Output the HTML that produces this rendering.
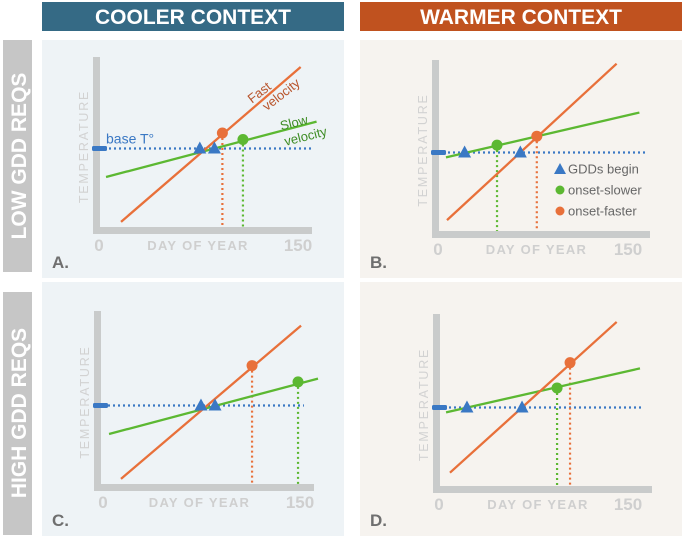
<!DOCTYPE html>
<html><head><meta charset="utf-8"><style>
html,body{margin:0;padding:0;background:#fff;}
svg{display:block;font-family:"Liberation Sans",sans-serif;}
</style></head><body>
<svg id="fig" width="685" height="538" viewBox="0 0 685 538" xmlns="http://www.w3.org/2000/svg">
  <rect x="42" y="2" width="302" height="29" fill="#356a85"/>
  <text x="193" y="24" text-anchor="middle" fill="#fff" font-size="21" font-weight="bold">COOLER CONTEXT</text>
  <rect x="360" y="2" width="322" height="29" fill="#c0521f"/>
  <text x="521" y="24" text-anchor="middle" fill="#fff" font-size="21" font-weight="bold">WARMER CONTEXT</text>
  <rect x="3" y="40" width="29" height="232" fill="#c6c6c6"/>
  <text transform="translate(26,156) rotate(-90)" text-anchor="middle" fill="#fff" font-size="21" font-weight="bold">LOW GDD REQS</text>
  <rect x="3" y="292" width="29" height="243" fill="#c6c6c6"/>
  <text transform="translate(26,413) rotate(-90)" text-anchor="middle" fill="#fff" font-size="21" font-weight="bold">HIGH GDD REQS</text>
  <g id="panels"></g>
</svg>
<script>
// Data (day of year, temperature units; base T = 10)
const panelNames = ["A.", "B.", "C.", "D."];
const baseT = [10, 10, 10, 10];
const fastLineDays = [[16.6, 152], [7.1, 141], [13.7, 150.8], [8.7, 141]];
const fastLineTemps = [[1.0, 20.0], [1.7, 20.9], [1.0, 19.8], [2.0, 20.5]];
const slowLineDays = [[5.3, 164], [6.3, 159], [4.6, 163.7], [5.6, 159.5]];
const slowLineTemps = [[6.5, 13.3], [9.4, 14.9], [6.5, 13.3], [9.4, 14.8]];
const gddBeginDays = [[76, 87], [21, 65], [74.6, 85.3], [22.2, 65.9]];
const onsetFasterDay = [93, 78, 113.5, 104];
const onsetFasterTemp = [11.9, 12.0, 14.9, 15.5];
const onsetSlowerDay = [108.5, 46.6, 148.5, 93.7];
const onsetSlowerTemp = [11.1, 10.9, 12.9, 12.4];
const tickLabels = ["0", "150"];
const legendLabels = ["GDDs begin", "onset-slower", "onset-faster"];

const NS = "http://www.w3.org/2000/svg";
const layout = [
  {px:42, py:40, pw:302, ph:238, bg:"#eef3f6", ax:96, x0:99, x150:298, yb:230, ytop:57, xr:312, baseEnd:160},
  {px:360, py:40, pw:322, ph:238, bg:"#f6f3ef", ax:435, x0:438, x150:628, yb:234, ytop:60, xr:650, baseEnd:164},
  {px:42, py:282, pw:302, ph:254, bg:"#eef3f6", ax:97, x0:103, x150:300, yb:487, ytop:311, xr:314, baseEnd:153},
  {px:360, py:282, pw:322, ph:254, bg:"#f6f3ef", ax:436, x0:439, x150:628, yb:489, ytop:314, xr:652, baseEnd:161}
];
const PXDEG = 8.15;
const root = document.getElementById("panels");
function mk(tag, attrs, parent, txt){
  const e = document.createElementNS(NS, tag);
  for (const k in attrs) e.setAttribute(k, attrs[k]);
  if (txt !== undefined) e.textContent = txt;
  (parent||root).appendChild(e);
  return e;
}
const ORANGE="#e8703a", GREEN="#5cb832", BLUE="#3a78c4", AXIS="#c9cbcb";

layout.forEach((L, i) => {
  const g = mk("g", {});
  
  
  const sx = d => L.x0 + (L.x150 - L.x0) * d / 150;
  const sy = t => L.yb - t * PXDEG;
  const bg = mk("rect", {x:L.px, y:L.py, width:L.pw, height:L.ph, fill:L.bg}, g);
  
  
  const ya = mk("rect", {x:L.ax-3, y:L.ytop, width:7, height:L.yb-L.ytop+3, fill:AXIS}, g);
  
  
  const xa = mk("rect", {x:L.ax-3, y:L.yb-3, width:L.xr-L.ax+3, height:7, fill:AXIS}, g);
  
  
  const t0 = mk("text", {x:sx(0), y:L.yb+21, "text-anchor":"middle", fill:"#cfcfcf", "font-size":17, "font-weight":"bold"}, g, tickLabels[0]);
  
  
  const t1 = mk("text", {x:sx(150), y:L.yb+21, "text-anchor":"middle", fill:"#cfcfcf", "font-size":17, "font-weight":"bold"}, g, tickLabels[1]);
  
  
  const xt = mk("text", {x:(L.ax+L.xr)/2-6, y:L.yb+20, "text-anchor":"middle", fill:"#cfcfcf", "font-size":13, "font-weight":"bold", "letter-spacing":"1.3"}, g, "DAY OF YEAR");
  
  
  const ycy = (L.ytop + L.yb)/2 + 3;
  const yt = mk("text", {transform:`translate(${L.ax-8},${ycy}) rotate(-90)`, "text-anchor":"middle", fill:"#d2d2d2", "font-size":12.5, "letter-spacing":"1.8"}, g, "TEMPERATURE");
  
  
  const pl = mk("text", {x:L.px+10, y:L.py+L.ph-10, fill:"#6f6f6f", "font-size":17, "font-weight":"bold"}, g, panelNames[i]);
  
  
  const by = sy(baseT[i]);
  const bl = mk("line", {x1:sx(0), y1:by, x2:sx(L.baseEnd), y2:by, stroke:BLUE, "stroke-width":2.2, "stroke-dasharray":"2 3"}, g);
  
  
  const bm = mk("rect", {x:L.ax-4, y:by-2.5, width:15, height:5, rx:1.5, fill:BLUE}, g);
  
  
  const df = mk("line", {x1:sx(onsetFasterDay[i]), y1:sy(onsetFasterTemp[i]), x2:sx(onsetFasterDay[i]), y2:L.yb-3, stroke:ORANGE, "stroke-width":2.2, "stroke-dasharray":"2 3"}, g);
  
  
  const ds = mk("line", {x1:sx(onsetSlowerDay[i]), y1:sy(onsetSlowerTemp[i]), x2:sx(onsetSlowerDay[i]), y2:L.yb-3, stroke:GREEN, "stroke-width":2.2, "stroke-dasharray":"2 3"}, g);
  
  
  const gl = mk("line", {x1:sx(slowLineDays[i][0]), y1:sy(slowLineTemps[i][0]), x2:sx(slowLineDays[i][1]), y2:sy(slowLineTemps[i][1]), stroke:GREEN, "stroke-width":2.3}, g);
  
  
  const ol = mk("line", {x1:sx(fastLineDays[i][0]), y1:sy(fastLineTemps[i][0]), x2:sx(fastLineDays[i][1]), y2:sy(fastLineTemps[i][1]), stroke:ORANGE, "stroke-width":2.3}, g);
  
  
  gddBeginDays[i].forEach(d => {
    const x = sx(d);
    const tr = mk("polygon", {points:`${x-6.5},${by+5} ${x+6.5},${by+5} ${x},${by-7}`, fill:BLUE}, g);
    
    
  });
  const od = mk("circle", {cx:sx(onsetFasterDay[i]), cy:sy(onsetFasterTemp[i]), r:5.5, fill:ORANGE}, g);
  
  
  const gd = mk("circle", {cx:sx(onsetSlowerDay[i]), cy:sy(onsetSlowerTemp[i]), r:5.5, fill:GREEN}, g);
  
  

  if (i === 0) {
    const b = mk("text", {x:106, y:by-5, fill:BLUE, "font-size":14}, g, "base T°");
    
    
    const f = mk("text", {transform:"translate(262,96) rotate(-38)", fill:"#b8532a", "font-size":13, "text-anchor":"middle"}, g);
    
    
    mk("tspan", {x:0, y:0}, f, "Fast");
    mk("tspan", {x:16, y:15}, f, "velocity");
    const s = mk("text", {transform:"translate(295,127) rotate(-14)", fill:"#3d8c24", "font-size":13, "text-anchor":"middle"}, g);
    
    
    mk("tspan", {x:0, y:0}, s, "Slow");
    mk("tspan", {x:8, y:16}, s, "velocity");
  }
  if (i === 1) {
    const lx = 560, ly = [169, 190, 211];
    const lt = mk("polygon", {points:`${lx-6},${ly[0]+5} ${lx+6},${ly[0]+5} ${lx},${ly[0]-6}`, fill:BLUE}, g);
    
    
    const lg = mk("circle", {cx:lx, cy:ly[1], r:4.5, fill:GREEN}, g);
    
    
    const lo = mk("circle", {cx:lx, cy:ly[2], r:4.5, fill:ORANGE}, g);
    
    
    legendLabels.forEach((t, k) => {
      const e = mk("text", {x:lx+8, y:ly[k]+4.5, fill:"#666", "font-size":13}, g, t);
      
      
    });
  }
});
</script>
</body></html>
